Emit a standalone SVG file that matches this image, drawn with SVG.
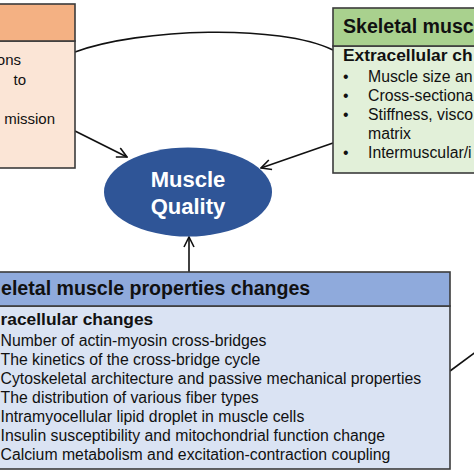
<svg xmlns="http://www.w3.org/2000/svg" width="474" height="474" viewBox="0 0 474 474">
<defs>
<marker id="arr" viewBox="0 0 12 12" refX="11" refY="6" markerWidth="12" markerHeight="12" markerUnits="userSpaceOnUse" orient="auto">
<path d="M1,1 L11,6 L1,11" fill="none" stroke="#111" stroke-width="1.6"/>
</marker>
<style>
.box{stroke:#3b3b3b;stroke-width:1.6}
.t{font-family:"Liberation Sans",Arial,sans-serif;fill:#111}
.h{font-size:19.6px;font-weight:bold}
.sh{font-size:17.4px;font-weight:bold}
.b{font-size:15.8px}
.o{font-size:15px}
.c{fill:none;stroke:#111;stroke-width:1.6}
</style>
</defs>
<rect width="474" height="474" fill="#ffffff"/>
<g id="connectors">
<path class="c" d="M75,52 C140,28 280,24 333,50"/>
<path class="c" d="M75,131 L127,157" marker-end="url(#arr)"/>
<path class="c" d="M333,143 L261,168" marker-end="url(#arr)"/>
<path class="c" d="M189,272 L189,237" marker-end="url(#arr)"/>
<path class="c" d="M450,371 L477,351"/>
</g>
<g id="node-neural">
<rect class="box" x="-10" y="41" width="85" height="127" fill="#FBE5D6"/>
<rect class="box" x="-10" y="4" width="85" height="37" fill="#F4B183"/>
<text class="t o" x="21" y="65" text-anchor="end">ons</text>
<text class="t o" x="26" y="85" text-anchor="end">to</text>
<text class="t o" x="55" y="124" text-anchor="end">mission</text>
</g>
<g id="node-skeletal-green">
<rect class="box" x="333" y="46" width="160" height="127" fill="#E2F0D9"/>
<rect class="box" x="333" y="8" width="160" height="38" fill="#A9D18E"/>
<text class="t h" x="343" y="33">Skeletal musc</text>
<text class="t sh" x="343" y="61">Extracellular ch</text>
<text class="t b" x="343" y="82">•</text>
<text class="t b" x="368" y="82">Muscle size an</text>
<text class="t b" x="343" y="101">•</text>
<text class="t b" x="368" y="101">Cross-sectiona</text>
<text class="t b" x="343" y="120">•</text>
<text class="t b" x="368" y="120">Stiffness, visco</text>
<text class="t b" x="368" y="139">matrix</text>
<text class="t b" x="343" y="158">•</text>
<text class="t b" x="368" y="158">Intermuscular/i</text>
</g>
<g id="node-quality">
<ellipse cx="188" cy="192" rx="84" ry="44.5" fill="#2F5597"/>
<text class="t" x="188" y="187" text-anchor="middle" style="fill:#ffffff;font-size:22px;font-weight:bold">Muscle</text>
<text class="t" x="188" y="214" text-anchor="middle" style="fill:#ffffff;font-size:22px;font-weight:bold">Quality</text>
</g>
<g id="node-skeletal-blue">
<rect class="box" x="-10" y="306" width="460" height="163" fill="#DAE3F3"/>
<rect class="box" x="-10" y="272" width="460" height="34" fill="#8FAADC"/>
<text class="t h" x="1" y="295">eletal muscle properties changes</text>
<text class="t sh" x="0.5" y="325">racellular changes</text>
<text class="t b" x="0.5" y="346">Number of actin-myosin cross-bridges</text>
<text class="t b" x="0.5" y="365">The kinetics of the cross-bridge cycle</text>
<text class="t b" x="0.5" y="384">Cytoskeletal architecture and passive mechanical properties</text>
<text class="t b" x="0.5" y="403">The distribution of various fiber types</text>
<text class="t b" x="0.5" y="422">Intramyocellular lipid droplet in muscle cells</text>
<text class="t b" x="0.5" y="441">Insulin susceptibility and mitochondrial function change</text>
<text class="t b" x="0.5" y="460">Calcium metabolism and excitation-contraction coupling</text>
</g>
</svg>
